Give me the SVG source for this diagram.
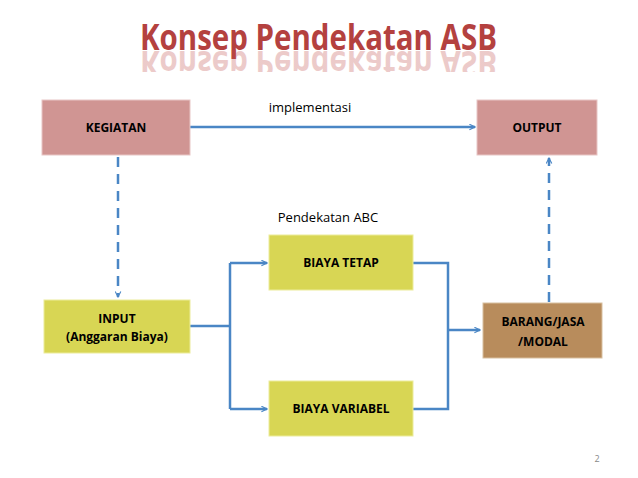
<svg xmlns="http://www.w3.org/2000/svg" width="638" height="478" viewBox="0 0 638 478">
<defs>
<marker id="ah" viewBox="0 0 10 10" refX="9" refY="5" markerWidth="7" markerHeight="7" orient="auto" markerUnits="userSpaceOnUse"><path d="M1,1 L9,5 L1,9" fill="none" stroke="#4a86c5" stroke-width="1.6"/></marker>
<linearGradient id="ref" gradientUnits="userSpaceOnUse" x1="0" y1="50" x2="0" y2="72"><stop offset="0" stop-color="#c0504d" stop-opacity="0.3"/><stop offset="1" stop-color="#c0504d" stop-opacity="0"/></linearGradient>
<clipPath id="rc"><rect x="0" y="50" width="638" height="22"/></clipPath>
</defs>
<style>
text{font-family:"Open Sans","Liberation Sans",sans-serif;}
.b{font-weight:bold;font-size:12px;fill:#000;text-anchor:middle}
.l{font-size:13px;fill:#000;text-anchor:middle}
.c{fill:none;stroke:#4a86c5;stroke-width:2.5}
.d{stroke-dasharray:10,7}
.red{fill:#d09593;stroke:#e8c6c5;stroke-width:1}
.yel{fill:#d8d654;stroke:#ecec9a;stroke-width:1}
.brn{fill:#b88c5c;stroke:#d8bf9f;stroke-width:1}
</style>
<rect width="638" height="478" fill="#fff"/>
<text x="140" y="50" textLength="357" lengthAdjust="spacingAndGlyphs" font-size="35" font-weight="bold" fill="#b4413f">Konsep Pendekatan ASB</text>
<g clip-path="url(#rc)"><text x="140" y="50" textLength="357" lengthAdjust="spacingAndGlyphs" font-size="35" font-weight="bold" fill="url(#ref)" transform="translate(0,101) scale(1,-1)">Konsep Pendekatan ASB</text></g>
<g id="connectors">
<path class="c" d="M190,127 H475" marker-end="url(#ah)"/>
<path class="c d" d="M118,157 V297" marker-end="url(#ah)"/>
<path class="c" d="M190,326 H230"/>
<path class="c" d="M230,263 V409"/>
<path class="c" d="M230,263 H267" marker-end="url(#ah)"/>
<path class="c" d="M230,409 H267" marker-end="url(#ah)"/>
<path class="c" d="M413,263 H448 V409 H413"/>
<path class="c" d="M448,330 H480" marker-end="url(#ah)"/>
<path class="c d" d="M549,302 V158" marker-end="url(#ah)"/>
</g>
<text class="l" x="310" y="112">implementasi</text>
<text class="l" x="328" y="222">Pendekatan ABC</text>
<g id="kegiatan"><rect class="red" x="42" y="100" width="148" height="55"/><text class="b" x="116" y="132">KEGIATAN</text></g>
<g id="output"><rect class="red" x="477" y="100" width="120" height="55"/><text class="b" x="537" y="132">OUTPUT</text></g>
<g id="input"><rect class="yel" x="44" y="300" width="146" height="53"/><text class="b" x="117" y="323">INPUT</text><text class="b" x="117" y="341" font-size="11.5">(Anggaran Biaya)</text></g>
<g id="tetap"><rect class="yel" x="269" y="235" width="144" height="55"/><text class="b" x="341" y="267">BIAYA TETAP</text></g>
<g id="variabel"><rect class="yel" x="269" y="381" width="144" height="55"/><text class="b" x="341" y="413">BIAYA VARIABEL</text></g>
<g id="barang"><rect class="brn" x="483" y="303" width="119" height="55"/><text class="b" x="543" y="326">BARANG/JASA</text><text class="b" x="543" y="346">/MODAL</text></g>
<text x="597" y="462" font-size="9" fill="#888" text-anchor="middle">2</text>
</svg>
